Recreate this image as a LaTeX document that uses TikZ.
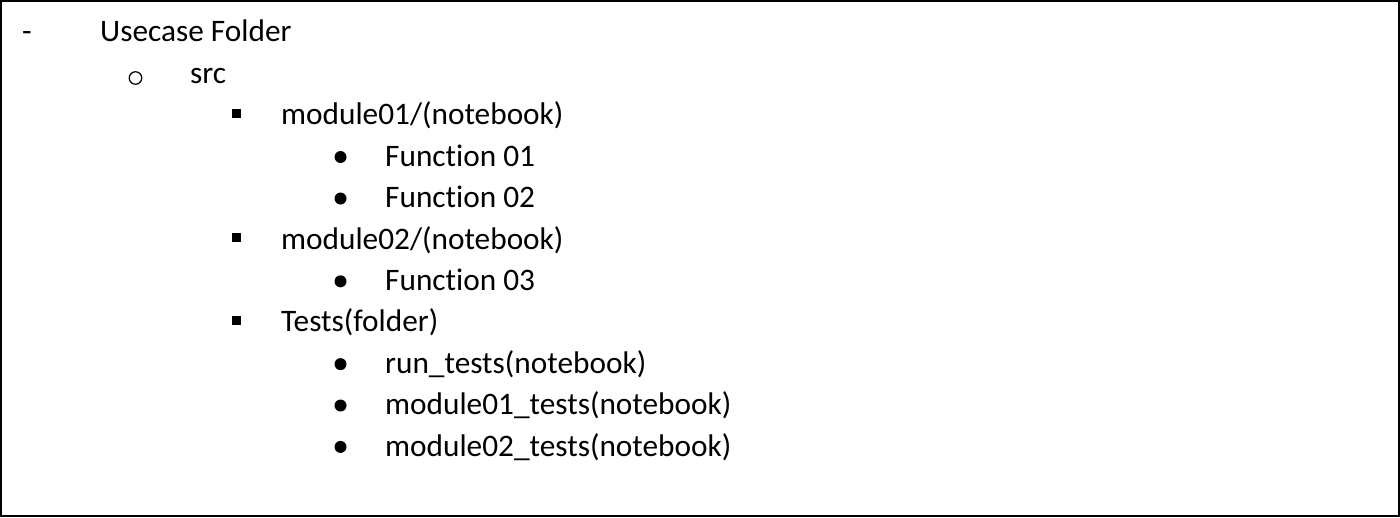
\documentclass[tikz,border=0pt]{standalone}
\usepackage{fontspec}
\setmainfont{Carlito}[Ligatures=NoCommon]
\begin{document}
\begin{tikzpicture}[x=1pt,y=-1pt,
  item/.style={anchor=base west,inner sep=0pt,font=\fontsize{31.3}{37}\selectfont},
  sqb/.style={fill=black,minimum size=8.5pt,inner sep=0pt},
  dotb/.style={circle,fill=black,minimum size=12pt,inner sep=0pt},
  circb/.style={circle,draw=black,line width=1.2pt,minimum size=12.5pt,inner sep=0pt}]
\useasboundingbox (0,0) rectangle (1400,517);
\draw[line width=2pt] (1,1) rectangle (1399,516);
% level 0
\node[item] (d0) at (22,41.7) {-};
\node[item] (t0) at (100,41.7) {Usecase Folder};
% level 1
\node[circb] (b1) at (135.5,78) {};
\node[item] (t1) at (190,83.3) {src};
% level 2
\node[sqb] (b2) at (236.5,113.5) {};
\node[item] (t2) at (281,124.8) {module01/(notebook)};
\node[dotb] (b3) at (340.5,157) {};
\node[item] (t3) at (385,166.2) {Function 01};
\node[dotb] (b4) at (340.5,198.5) {};
\node[item] (t4) at (385,207.6) {Function 02};
\node[sqb] (b5) at (236.5,237.7) {};
\node[item] (t5) at (281,249) {module02/(notebook)};
\node[dotb] (b6) at (340.5,281.3) {};
\node[item] (t6) at (385,290.4) {Function 03};
\node[sqb] (b7) at (236.5,320.5) {};
\node[item] (t7) at (281,331.8) {Tests(folder)};
\node[dotb] (b8) at (340.5,364.1) {};
\node[item] (t8) at (385,373.2) {run\_tests(notebook)};
\node[dotb] (b9) at (340.5,405.5) {};
\node[item] (t9) at (385,414.6) {module01\_tests(notebook)};
\node[dotb] (b10) at (340.5,446.9) {};
\node[item] (t10) at (385,456) {module02\_tests(notebook)};
\end{tikzpicture}
\end{document}
